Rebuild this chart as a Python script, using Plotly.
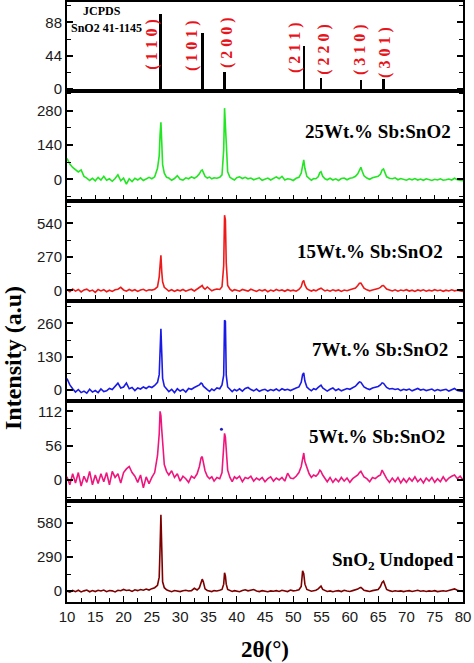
import plotly.graph_objects as go

# ---------------- data ----------------
two_theta = [
    10.0, 10.5, 11.0, 11.5, 12.0, 12.5, 13.0, 13.5, 14.0, 14.5, 15.0, 15.5, 16.0, 16.5, 17.0, 17.5,
    18.0, 18.5, 19.0, 19.5, 20.0, 20.5, 21.0, 21.5, 22.0, 22.5, 23.0, 23.5, 24.0, 24.5, 25.0, 25.5,
    26.0, 26.3, 26.45, 26.6, 26.75, 26.9, 27.2, 27.6,
    28.0, 28.5, 29.0, 29.5, 30.0, 30.5, 31.0, 31.5, 32.0, 32.5, 33.0,
    33.4, 33.7, 33.9, 34.1, 34.4, 34.8, 35.2, 35.6, 36.0, 36.5, 37.0, 37.4,
    37.7, 37.85, 38.0, 38.15, 38.4, 38.8, 39.2, 39.6, 40.0,
    40.5, 41.0, 41.5, 42.0, 42.5, 43.0, 43.5, 44.0, 44.5, 45.0, 45.5, 46.0, 46.5, 47.0, 47.5, 48.0,
    48.5, 49.0, 49.5, 50.0, 50.5, 51.0,
    51.4, 51.65, 51.85, 52.05, 52.4, 52.8, 53.2, 53.6, 54.0, 54.4,
    54.7, 54.9, 55.2, 55.6, 56.0,
    56.5, 57.0, 57.5, 58.0, 58.5, 59.0, 59.5, 60.0, 60.5, 61.0,
    61.4, 61.7, 61.95, 62.2, 62.5, 63.0, 63.5, 64.0, 64.5, 65.0, 65.4,
    65.7, 65.95, 66.2, 66.5, 67.0,
    67.5, 68.0, 68.5, 69.0, 69.5, 70.0, 70.5, 71.0, 71.5, 72.0, 72.5, 73.0, 73.5, 74.0, 74.5, 75.0,
    75.5, 76.0, 76.5, 77.0, 77.5, 78.0, 78.5, 79.0, 79.5, 80.0,
]

sb25 = [
    85, 62, 48, 40, 30, 38, 12, 5, -5, 4, -6, 8, -3, 12, -4, 2,
    -8, 3, 18, -6, 5, -20, 2, -9, 4, -3, 6, -5, 3, 8, 2, 10,
    45, 95, 180, 232, 150, 60, 25, 8,
    5, -4, 3, 15, 0, -3, 6, 2, 10, 4, 12,
    22, 35, 38, 28, 12, 5, 9, 2, 6, 4, 8, 18,
    120, 290, 240, 150, 30, 8, 2, -3, 6,
    10, 3, 8, 2, 5, -2, 3, 6, -4, 2, 5, -3, 4, 10, 2, 12,
    -3, 2, 0, -5, 4, 8,
    25, 65, 79, 45, 12, 4, -4, 3, 2, 10,
    28, 31, 12, 2, -2,
    4, -3, 2, -5, 3, 5, -2, 4, 6, 12,
    22, 40, 49, 32, 14, 5, 0, 6, 8, 12, 20,
    38, 42, 25, 10, 4,
    2, 6, -2, 3, 0, -4, 2, -2, 3, -3, 1, -4, 2, -1, -5, 0,
    -3, 2, -4, -2, 1, -3, 4, -2, -4, -6,
]

sb15 = [
    5, -10, 12, -5, 8, -12, 4, 10, -6, 3, -15, 8, -4, 6, -10, 2,
    -8, 5, 10, 25, 4, -6, 8, -3, 6, -8, 4, 9, -4, 6, 3, 10,
    30, 110, 200, 283, 150, 70, 25, 8,
    -5, 6, -8, 4, -3, 8, -6, 3, 10, -4, 12,
    25, 38, 40, 22, 10, 28, 10, -3, 5, 12, 8, 30,
    200, 607, 567, 220, 40, 10, -4, 6, 2,
    -6, 8, 3, -5, 10, 2, -8, 5, -3, 6, -10, 3, -5, 8, -2, 4,
    -7, 6, -3, 2, -6, 8,
    30, 70, 81, 45, 15, 3, -5, 4, -3, 8,
    16, 18, 8, -4, 3,
    -6, 5, -3, 4, -8, 3, -2, 6, 10, 20,
    40, 58, 60, 42, 18, 5, -3, 4, 8, 15, 25,
    38, 40, 25, 12, 4,
    -4, 5, -6, 3, -2, 6, -5, 2, -8, 4, -3, 5, -6, 2, -4, 6,
    -2, 3, -7, 2, -4, 5, -3, 2, -6, -8,
]

sb7 = [
    45, 20, 5, -8, 2, -10, -4, -12, 3, -8, -2, -10, 4, -6, -3, 6,
    2, 15, 27, 8, 12, 27, 5, 10, -2, 8, 4, 12, 6, 14, 10, 18,
    30, 60, 163, 239, 143, 45, 15, 4,
    -6, 3, -10, 5, -4, 2, -8, 6, 3, 10, 15,
    20, 27, 24, 15, 8, 2, -5, 4, -2, 8, 5, 20,
    58, 272, 268, 58, 12, 4, -6, 2, -3,
    5, -4, 6, 10, 2, -3, 4, -5, 0, 3, -4, 2, -2, 4, -3, 5,
    0, 3, -2, 4, 8, 12,
    30, 60, 67, 35, 12, 4, -3, 5, 2, 10,
    18, 19, 8, 2, -4,
    3, 8, -2, 4, -3, 2, 6, 3, 8, 15,
    25, 32, 30, 22, 12, 6, 2, 8, 10, 14, 20,
    28, 26, 18, 10, 4,
    6, 2, 5, -2, 3, 0, 4, -3, 2, 6, 0, 3, -2, 1, 4, -3,
    2, -2, 0, 3, -4, 2, 6, -2, -5, -6,
]

sb5 = [
    5, -8, 10, -5, 12, -10, 6, -4, 14, -8, 8, -6, 10, -3, 12, -8,
    14, 4, 10, -5, 12, 18, 22, 12, 6, -4, 8, -13, 5, -6, 4, 12,
    40, 75, 112, 105, 82, 55, 25, 14,
    8, 15, 4, 10, -2, 6, 2, -4, 6, 3, 10,
    22, 36, 38, 28, 15, 6, 2, 5, -2, 4, 2, 12,
    55, 76, 70, 49, 16, 4, -3, 5, 2,
    6, -3, 4, 2, 6, -2, 3, 0, 4, -3, 2, 5, -2, 3, 0, 4,
    -2, 11, 3, 2, 6, 12,
    22, 38, 44, 30, 20, 10, 4, 8, 6, 10,
    16, 14, 8, 3, -3,
    4, -4, 2, -3, 4, -2, 3, -4, 2, 5,
    8, 12, 14, 10, 5, 2, -3, 4, 2, 6, 8,
    16, 12, 6, 2, -4,
    3, -3, 4, -5, 2, -4, 3, -2, 5, -3, 2, -5, 3, -2, 4, -4,
    2, -3, 5, -2, 3, 6, 8, 2, 6, 0,
]

undoped = [
    0, -8, 6, -4, 8, -6, 3, 10, -5, 6, -3, 8, 2, 10, -4, 6,
    3, -6, 8, 4, 15, 6, 10, -2, 12, 5, 14, 8, 18, 10, 22, 30,
    51, 120, 366, 652, 370, 80, 30, 12,
    5, -4, 6, 2, -3, 4, 8, 2, 5, 25, 10,
    30, 85, 103, 80, 20, 6, 2, -3, 5, 2, 8, 15,
    60, 157, 130, 60, 15, 4, -2, 5, 3,
    -4, 6, 12, 3, 10, 14, 2, -3, 5, 2, -4, 3, 0, 5, -2, 8,
    2, -3, 10, 3, 6, 12,
    40, 174, 150, 60, 15, 5, 0, 4, 8, 20,
    40, 43, 15, 4, -2,
    3, -4, 2, 5, -3, 8, 2, -2, 5, 10,
    18, 28, 32, 22, 8, 3, -2, 5, 8, 15, 40,
    75, 86, 45, 15, 5,
    -2, 4, 0, 3, -3, 2, 5, -2, 3, 8, 0, 4, -2, 3, 0, 5,
    -3, 2, 4, 0, 6, 10, 20, 8, 2, -3,
]

jcpds_pos = [26.6, 33.9, 37.9, 51.9, 54.9, 62.0, 66.0]
jcpds_int = [100, 75, 23, 58, 15, 12, 14]
hkl_labels = ["( 1 1 0 )", "( 1 0 1 )", "( 2 0 0 )", "( 2 1 1 )", "( 2 2 0 )", "( 3 1 0 )", "( 3 0 1 )"]

stray_x = [37.3]
stray_y = [83]

series_labels = ["25Wt.% Sb:SnO2", "15Wt.% Sb:SnO2", "7Wt.% Sb:SnO2", "5Wt.% Sb:SnO2",
                 "SnO<sub>2</sub> Undoped"]

for s in (sb25, sb15, sb7, sb5, undoped):
    assert len(s) == len(two_theta), len(s)

# ---------------- styling ----------------
colors = ["#22e622", "#ee1a1a", "#1a1ae6", "#f0157d", "#7d0000"]
series = [sb25, sb15, sb7, sb5, undoped]

H, W = 663, 474
ML, MR, MT, MB = 67, 11, 0, 61
PH = H - MT - MB
PW = W - ML - MR

def fy(py):
    return (PH - py) / PH

def fx(px):
    return (px - ML) / PW

bounds = [1.5, 91, 201, 300.5, 401, 500.7, PH]
yranges = [[-2.6, 115.6], [-88.6, 360], [-81, 721], [-42.7, 349], [-34, 129], [-92, 772]]
ydticks = [44, 140, 270, 130, 56, 290]

fig = go.Figure()

# JCPDS bars
fig.add_trace(go.Bar(x=jcpds_pos, y=jcpds_int, xaxis="x", yaxis="y",
                     marker=dict(color="black", line=dict(width=0)),
                     width=[0.35, 0.55, 0.35, 0.35, 0.35, 0.35, 0.35], showlegend=False))

for i, (ys, c) in enumerate(zip(series, colors)):
    k = i + 2
    fig.add_trace(go.Scatter(x=two_theta, y=ys, mode="lines", xaxis=f"x{k}", yaxis=f"y{k}",
                             line=dict(color=c, width=1.6), showlegend=False))

fig.add_trace(go.Scatter(x=stray_x, y=stray_y, mode="markers", xaxis="x5", yaxis="y5",
                         marker=dict(color="#2020c0", size=3), showlegend=False))

tickfont = dict(family="Liberation Sans, Arial, sans-serif", size=15, color="#1a1a1a")
layout = dict(
    width=W, height=H,
    margin=dict(l=ML, r=MR, t=MT, b=MB),
    paper_bgcolor="white", plot_bgcolor="white",
    template="none",
    bargap=0,
)

for i in range(6):
    k = "" if i == 0 else str(i + 1)
    dom = [fy(bounds[i + 1]), fy(bounds[i])]
    xa = dict(domain=[0, 1], range=[10, 80], anchor=f"y{k}", showline=True, mirror=True,
              linewidth=2, linecolor="black", showgrid=False, zeroline=False,
              tick0=10, dtick=5, ticklen=6, tickwidth=1.3, tickcolor="black",
              ticks="inside" if i > 0 else "",
              showticklabels=(i == 5), tickfont=tickfont)
    if i > 0:
        xa["minor"] = dict(ticks="inside", dtick=2.5, tick0=10, ticklen=4, tickwidth=1.2,
                           tickcolor="black", showgrid=False)
    ya = dict(domain=dom, range=yranges[i], anchor=f"x{k}", showline=True, mirror="ticks",
              linewidth=2, linecolor="black", showgrid=False, zeroline=False,
              tick0=0, dtick=ydticks[i], ticks="inside", ticklen=6, tickwidth=1.5,
              tickcolor="black", tickfont=tickfont,
              minor=dict(ticks="inside", dtick=ydticks[i] / 2, tick0=0, ticklen=4,
                         tickwidth=1.3, tickcolor="black", showgrid=False))
    layout[f"xaxis{k}"] = xa
    layout[f"yaxis{k}"] = ya

serif = "Liberation Serif, Times New Roman, serif"
ann = []
label_pos = [(453, 131.7), (445, 252), (450, 350), (447, 436.7), (456, 561)]
for txt, (px, py) in zip(series_labels, label_pos):
    ann.append(dict(text=f"<b>{txt}</b>", x=fx(px), y=fy(py), xref="paper", yref="paper",
                    xanchor="right", yanchor="middle", showarrow=False,
                    font=dict(family=serif, size=19, color="black")))

ann.append(dict(text="<b>JCPDS</b>", x=fx(102), y=fy(11), xref="paper", yref="paper",
                xanchor="center", yanchor="middle", showarrow=False,
                font=dict(family=serif, size=12, color="black")))
ann.append(dict(text="<b>SnO2 41-1145</b>", x=fx(69), y=fy(28), xref="paper", yref="paper",
                xanchor="left", yanchor="middle", showarrow=False,
                font=dict(family=serif, size=12, color="black")))

hkl_xy = [(25.0, 44), (32.1, 46), (38.3, 43), (50.3, 47), (55.4, 49), (61.8, 50), (66.2, 52)]
for txt, (dx, py) in zip(hkl_labels, hkl_xy):
    ann.append(dict(text=f"<b>{txt}</b>", x=dx, y=fy(py), xref="x", yref="paper",
                    xanchor="center", yanchor="middle", showarrow=False, textangle=-90,
                    font=dict(family=serif, size=16, color="#e8141c")))

ann.append(dict(text="<b>Intensity (a.u)</b>", x=fx(13), y=fy(358), xref="paper", yref="paper",
                xanchor="center", yanchor="middle", showarrow=False, textangle=-90,
                font=dict(family=serif, size=24, color="black")))
ann.append(dict(text="<b>2θ(°)</b>", x=fx(265), y=fy(649), xref="paper", yref="paper",
                xanchor="center", yanchor="middle", showarrow=False,
                font=dict(family=serif, size=23, color="black")))

layout["annotations"] = ann
fig.update_layout(**layout)
fig.write_html("out.html")
